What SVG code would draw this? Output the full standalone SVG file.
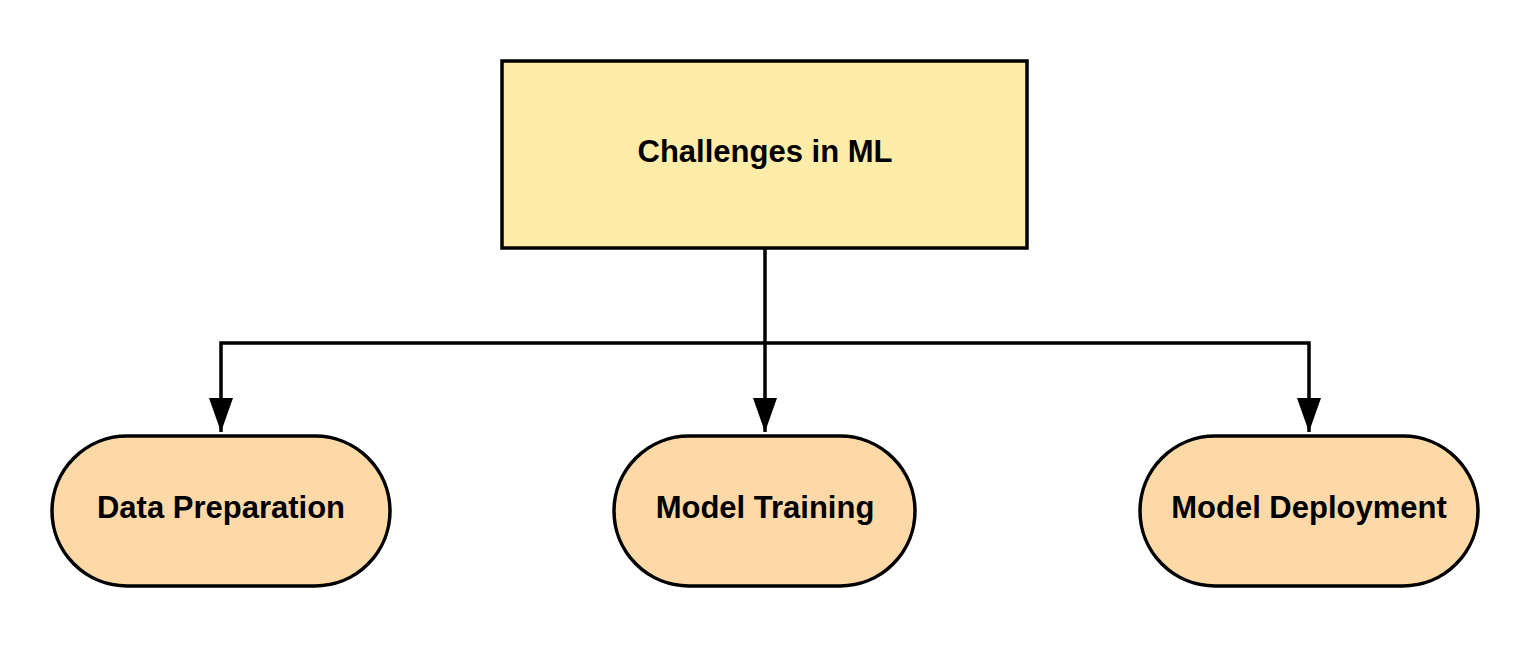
<svg xmlns="http://www.w3.org/2000/svg" width="1532" height="662" viewBox="0 0 1532 662">
<defs>
<style>
.t{font-family:"Liberation Sans",Arial,sans-serif;font-weight:bold;font-size:31px;fill:#000;text-anchor:middle;dominant-baseline:central}
.n{fill:#fdd9a8;stroke:#000;stroke-width:3.5}
.c{fill:none;stroke:#000;stroke-width:3.5}
</style>
<marker id="a" markerWidth="8" markerHeight="10" refX="4" refY="10" orient="auto-start-reverse" markerUnits="userSpaceOnUse" viewBox="0 0 8 10"><path d="M0,0 L8,0 L4,10 Z"/></marker>
<marker id="ar" viewBox="0 0 24 34" refX="12" refY="34" markerWidth="24" markerHeight="34" markerUnits="userSpaceOnUse" orient="0"><path d="M0,0 L24,0 L12,34 Z" fill="#000"/></marker>
</defs>
<rect width="1532" height="662" fill="#fff"/>
<g id="root"><rect x="502" y="61" width="525" height="187" fill="#ffeca8" stroke="#000" stroke-width="3.5"/><text class="t" x="765" y="151">Challenges in ML</text></g>
<g id="n1"><rect class="n" x="52" y="436" width="338" height="150" rx="75"/><text class="t" x="221" y="507">Data Preparation</text></g>
<g id="n2"><rect class="n" x="614" y="436" width="301" height="150" rx="75"/><text class="t" x="765" y="507">Model Training</text></g>
<g id="n3"><rect class="n" x="1140" y="436" width="338" height="150" rx="75"/><text class="t" x="1309" y="507">Model Deployment</text></g>
<g id="connectors">
<path class="c" d="M765,248 V432" marker-end="url(#ar)"/>
<path class="c" d="M765,343 H221 V432" marker-end="url(#ar)"/>
<path class="c" d="M765,343 H1309 V432" marker-end="url(#ar)"/>
</g>
</svg>
